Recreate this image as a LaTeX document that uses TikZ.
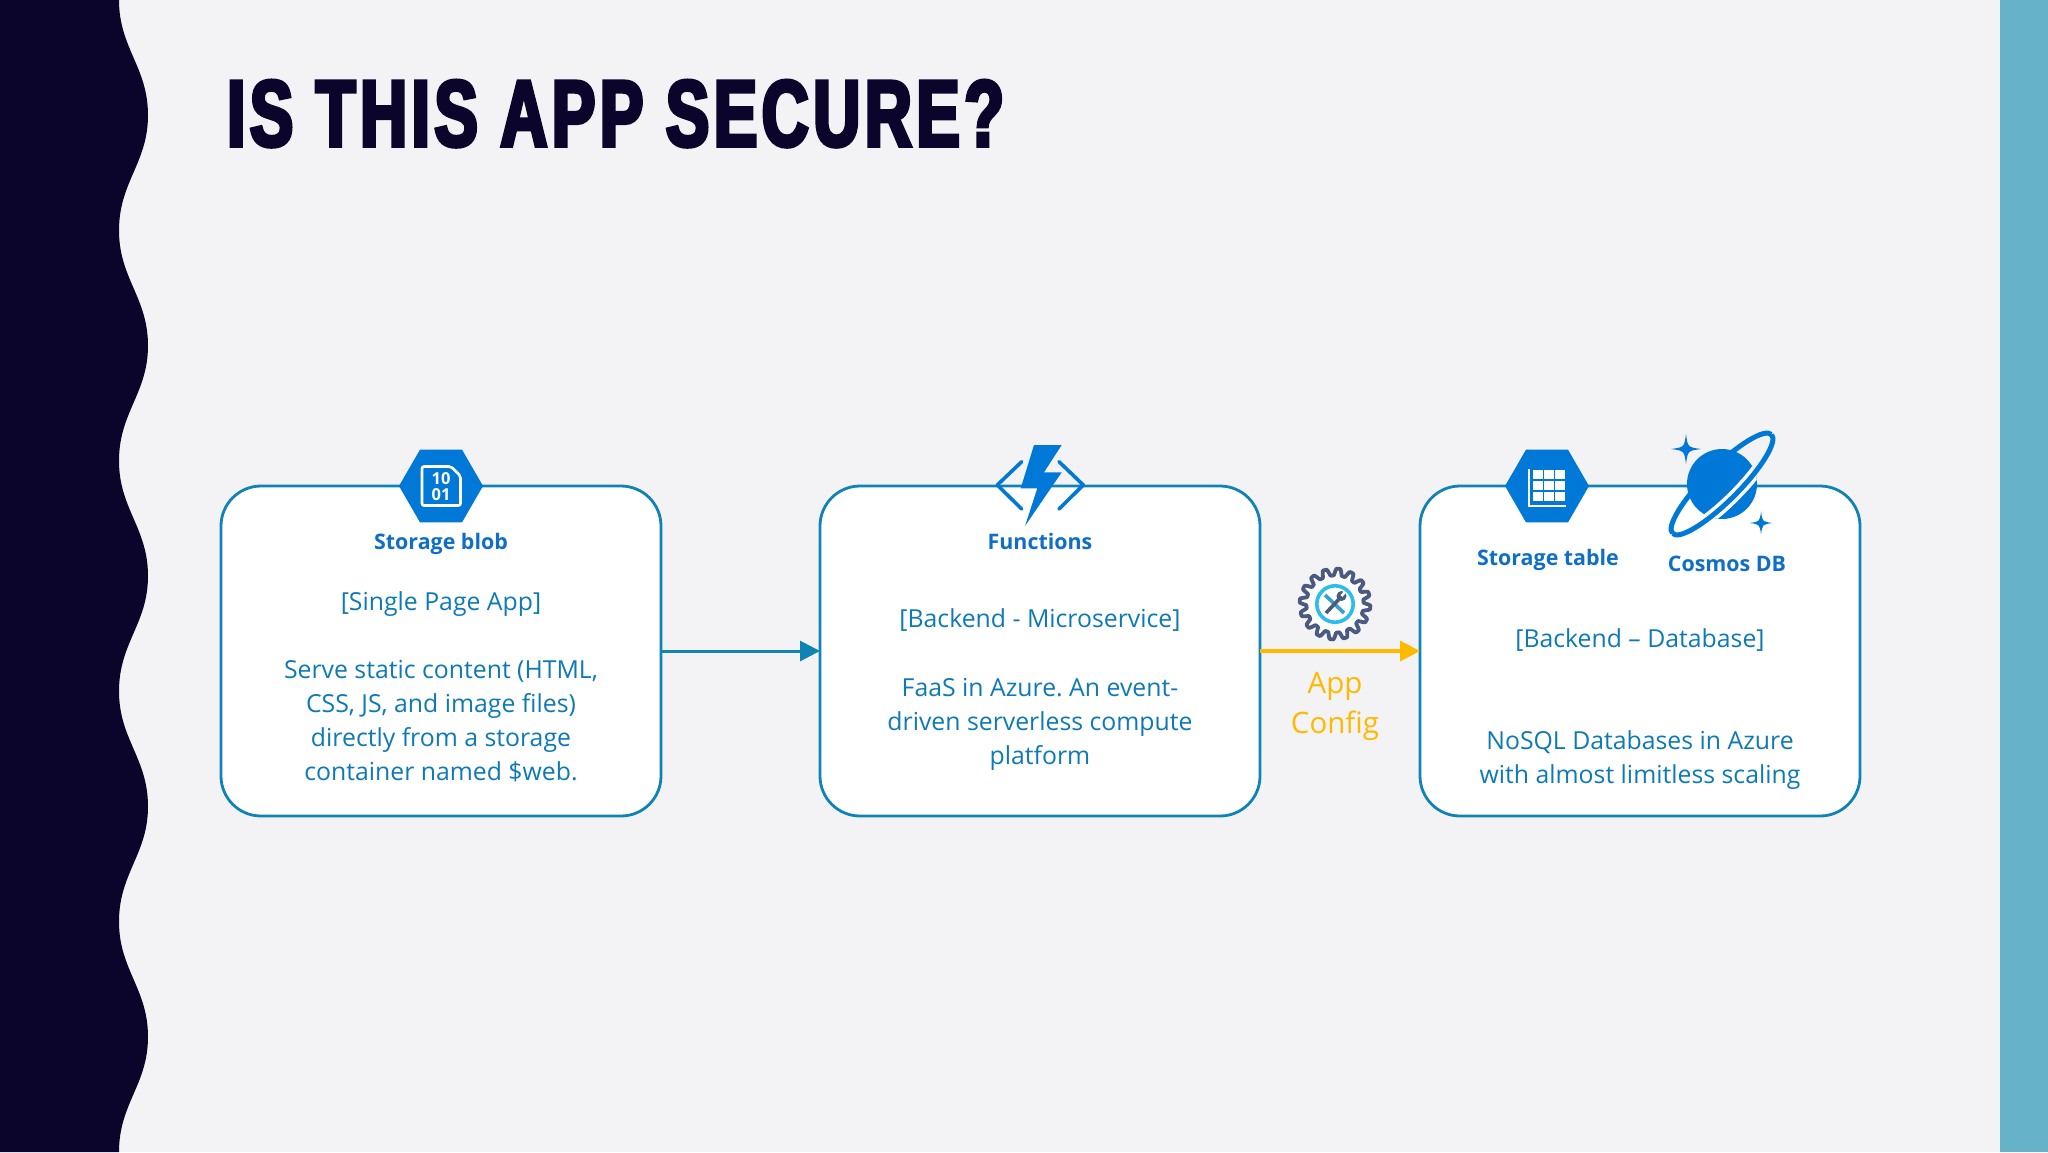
\documentclass[tikz,border=0pt]{standalone}
\usepackage{fontspec}
\setmainfont{Open Sans}
\newfontfamily\titlefont[BoldFont={Liberation Sans Bold},FakeStretch=0.69,FakeBold=4,LetterSpace=5]{Liberation Sans Bold}
\usetikzlibrary{arrows.meta}
\usetikzlibrary{shapes,positioning}
\definecolor{pagegray}{HTML}{F3F3F5}
\definecolor{navyside}{HTML}{0B052B}
\definecolor{tealside}{HTML}{65B2C9}
\definecolor{boxline}{HTML}{0F83B4}
\definecolor{bodyblue}{HTML}{0E7AB5}
\definecolor{azure}{HTML}{0078D7}
\definecolor{headblue}{HTML}{0F6FC6}
\definecolor{cfgyellow}{HTML}{FFB900}
\definecolor{gearslate}{HTML}{4A5A80}
\definecolor{gearcyan}{HTML}{2CBDEE}
\tikzset{
  appbox/.style={draw=boxline,line width=2.8pt,fill=white,rounded corners=40pt,
    minimum width=440pt,minimum height=330pt,inner sep=0pt,outer sep=0pt},
  headtext/.style={text=headblue,font=\fontsize{21.4}{26}\selectfont\bfseries},
  bodytext/.style={text=bodyblue,align=center,font=\fontsize{24.8}{34}\selectfont\frenchspacing},
  hexicon/.style={regular polygon,regular polygon sides=6,fill=azure,
    minimum size=84pt,inner sep=0pt},
  bitsnode/.style={text=white,inner sep=0pt,font=\fontsize{16.5}{16.5}\selectfont\bfseries}
}
\newcommand{\sparkle}[3]{
  \fill[azure] (#1,#2-#3) .. controls (#1+.12*#3,#2-.12*#3) .. (#1+#3,#2)
    .. controls (#1+.12*#3,#2+.12*#3) .. (#1,#2+#3)
    .. controls (#1-.12*#3,#2+.12*#3) .. (#1-#3,#2)
    .. controls (#1-.12*#3,#2-.12*#3) .. (#1,#2-#3) -- cycle;
}
\begin{document}
\begin{tikzpicture}[x=1pt,y=-1pt]
  \useasboundingbox (0,0) rectangle (2048,1152);
  \fill[pagegray] (0,0) rectangle (2048,1152);
  \fill[tealside] (2000,0) rectangle (2048,1152);
  \fill[navyside] (0,0) -- (119,0)
    \foreach \y in {0,230.4,460.8,691.2,921.6} {
      .. controls (119,\y+48) and (148,\y+67) .. (148,\y+115.2)
      .. controls (148,\y+163) and (119,\y+182) .. (119,\y+230.4)
    } -- (0,1152) -- cycle;
  \node[anchor=base west,inner sep=0pt,text=navyside,font=\fontsize{94}{94}\selectfont\titlefont] (title) at (227,146) {IS THIS APP SECURE?};

  \node[appbox] (blob) at (441,651) {};
  \node[appbox] (func) at (1040,651) {};
  \node[appbox] (db) at (1640,651) {};

  \draw[boxline,line width=3pt,-{Triangle[length=20pt,width=20pt]}] (blob.east) -- (func.west);
  \draw[cfgyellow,line width=3.5pt,-{Triangle[length=20pt,width=20pt]}] (func.east) -- (db.west);

  \node[hexicon] (blobhex) at (441,486) {};
  \draw[white,line width=2.6pt,rounded corners=2pt] (422,466.5) -- (451,466.5) -- (460.5,476) -- (460.5,505.5) -- (422,505.5) -- cycle;
  \node[bitsnode] (bitstop) at (441,478.5) {10};
  \node[bitsnode] (bitsbot) at (441,495) {01};
  \node[headtext] (blobname) at (441,543.5) {Storage blob};
  \node[bodytext] (blobrole) at (441,604) {[Single Page App]};
  \node[bodytext] (blobtext) at (441,721) {Serve static content (HTML,\\CSS, JS, and image files)\\directly from a storage\\container named \$web.};

  \fill[azure] (1034,445) -- (1061.7,445) -- (1044,472.3) -- (1061.7,472.3) -- (1025,526) -- (1037.3,488.3) -- (1020.7,488.3) -- cycle;
  \draw[azure,line width=3.6pt,line cap=round,line join=round] (1021.7,461.7) -- (997.3,485) -- (1021.7,509);
  \draw[azure,line width=3.6pt,line cap=round,line join=round] (1059,461.7) -- (1083.3,485) -- (1059,509);
  \node[headtext] (funcname) at (1040,541) {Functions};
  \node[bodytext] (funcrole) at (1040,620) {[Backend - Microservice]};
  \node[bodytext] (functext) at (1040,724) {FaaS in Azure. An event-\\driven serverless compute\\platform};

  \begin{scope}[shift={(1335,604)}]
    \draw[gearslate,line width=3.8pt,fill=white,line join=round] plot[domain=0:360,samples=289,smooth] (\x:{32*1+3.4*max(-1,min(1,1.7*sin(16*\x)))}) -- cycle;
    \draw[gearcyan,line width=3.6pt] (0,0) circle (18.2pt);
    \draw[gearcyan!70!gearslate,line width=3.6pt] (-10,-9) -- (9,9);
    \draw[gearslate,line width=3.6pt] (6,-7) -- (-9,9);
    \fill[gearslate] (6.5,-8) circle (5pt);
    \draw[white,line width=2.6pt] (6.5,-8) -- (10,-12);
  \end{scope}
  \node[text=cfgyellow,align=center,font=\fontsize{29.5}{40}\selectfont] (cfgtext) at (1335,706) {App\\Config};

  \node[hexicon] (tablehex) at (1547,486) {};
  \draw[white,line width=1.6pt] (1529,469) -- (1529,506) -- (1566,506);
  \foreach \i in {0,1,2} \foreach \j in {0,1,2}
    \fill[white] (1533+11.2*\i,469.5+11.2*\j) rectangle ++(9.5,9.5);
  \node[headtext] (tablename) at (1548,560) {Storage table};

  \begin{scope}[shift={(1722,484)},rotate=45]
    \draw[azure,line width=5pt] (70pt,0) arc[start angle=0,end angle=180,x radius=70pt,y radius=17pt];
  \end{scope}
  \fill[azure] (1722,484) circle (35pt);
  \begin{scope}
    \clip (1722,484) circle (35pt);
    \begin{scope}[shift={(1722,484)},rotate=45]
      \draw[white,line width=12pt] (-70pt,0) arc[start angle=180,end angle=360,x radius=70pt,y radius=17pt];
    \end{scope}
  \end{scope}
  \begin{scope}[shift={(1722,484)},rotate=45]
    \draw[azure,line width=5pt] (-70pt,0) arc[start angle=180,end angle=360,x radius=70pt,y radius=17pt];
  \end{scope}
  \sparkle{1686}{449}{15}
  \sparkle{1761}{523}{11.5}
  \node[headtext] (cosmosname) at (1727,564) {Cosmos DB};
  \node[bodytext] (dbrole) at (1640,640) {[Backend -- Database]};
  \node[bodytext] (dbtext) at (1640,760) {NoSQL Databases in Azure\\with almost limitless scaling};
\end{tikzpicture}
\end{document}
